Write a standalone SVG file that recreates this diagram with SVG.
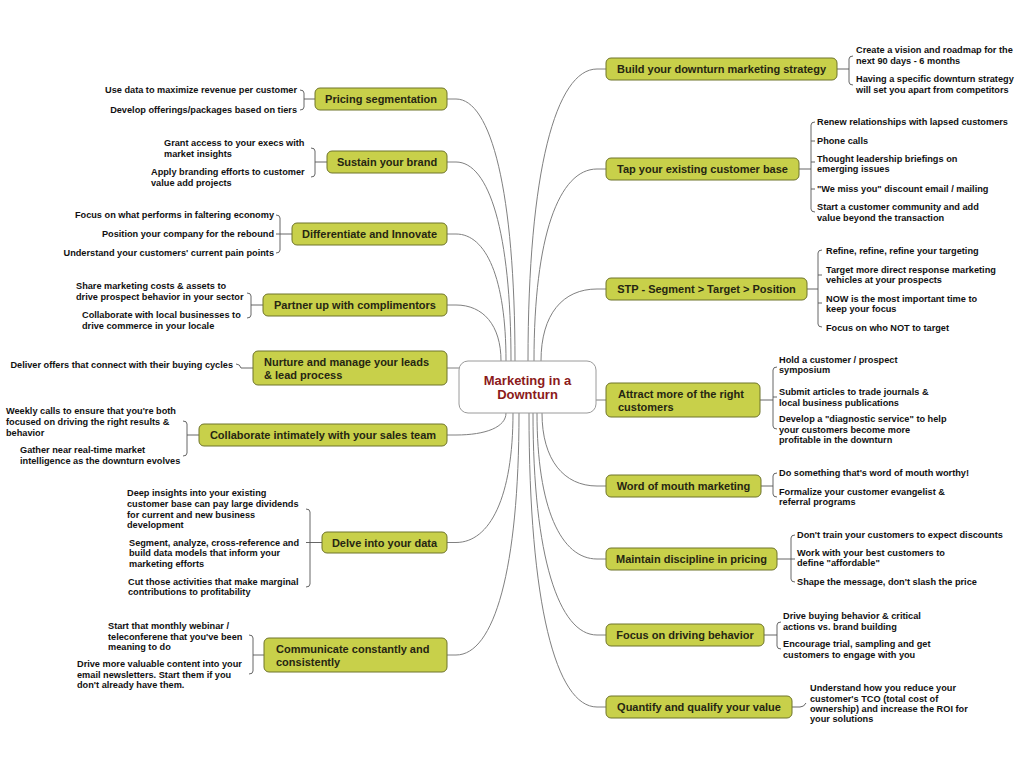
<svg xmlns="http://www.w3.org/2000/svg" width="1024" height="768" viewBox="0 0 1024 768">
<style>
.nr{fill:#c8d04a;stroke:#6f742a;stroke-width:1}
.cr{fill:#ffffff;stroke:#9a9a9a;stroke-width:1}
.nt{font-family:"Liberation Sans",Arial,sans-serif;font-weight:bold;font-size:11px;fill:#262612}
.ct{font-family:"Liberation Sans",Arial,sans-serif;font-weight:bold;font-size:13px;fill:#8b1a1a}
.lf{font-family:"Liberation Sans",Arial,sans-serif;font-weight:bold;font-size:9.2px;fill:#111}
.c{fill:none;stroke:#808080;stroke-width:1}
.b{fill:none;stroke:#555;stroke-width:0.9}
.m{text-anchor:middle}
.e{text-anchor:end}
</style>
<rect width="1024" height="768" fill="#ffffff"/>
<g id="connectors">
<path class="c" d="M447,99 L456,99 C491,99 515,191 515,361"/>
<path class="c" d="M447,162 L456,162 C489,162 511,232 511,361"/>
<path class="c" d="M447,234 L456,234 C486,234 506,278 506,361"/>
<path class="c" d="M447,305 L456,305 C483,305 501,325 501,361"/>
<path class="c" d="M447,368 L459,368"/>
<path class="c" d="M447,435 L456,435 C486,435 506,427 506,413"/>
<path class="c" d="M447,542.5 L456,542.5 C490,542.5 513,497 513,413"/>
<path class="c" d="M447,655 L456,655 C494,655 519,570 519,413"/>
<path class="c" d="M606,69 L597,69 C556,69 528,171 528,361"/>
<path class="c" d="M606,169 L597,169 C559,169 534,236 534,361"/>
<path class="c" d="M606,289 L597,289 C563,289 541,314 541,361"/>
<path class="c" d="M596,400 L606,400"/>
<path class="c" d="M606,486 L597,486 C564,486 542,460 542,413"/>
<path class="c" d="M606,559 L597,559 C561,559 537,508 537,413"/>
<path class="c" d="M606,635 L597,635 C559,635 533,557 533,413"/>
<path class="c" d="M606,707 L597,707 C556,707 529,604 529,413"/>
<!-- left brackets -->
<path class="b" d="M300,90 Q304,90 304,93 L304,107 Q304,110 300,110 M304,99 L315,99"/>
<path class="b" d="M311,148 Q315,148 315,151 L315,174 Q315,177 311,177 M315,162 L327,162"/>
<path class="b" d="M276,215 Q280,215 280,218 L280,250 Q280,253 276,253 M276,234 L292,234"/>
<path class="b" d="M247,293 Q251,293 251,296 L251,315 Q251,318 247,318 M251,305 L263,305"/>
<path class="b" d="M236,364 Q240,364 241,368 L253,368"/>
<path class="b" d="M183,421 Q187,421 187,424 L187,453 Q187,456 183,456 M187,435 L199,435"/>
<path class="b" d="M306,509 Q310,509 310,512 L310,584 Q310,587 306,587 M306,542.5 L322,542.5"/>
<path class="b" d="M249,635 Q253,635 253,638 L253,671 Q253,674 249,674 M253,655 L264,655"/>
<!-- right brackets -->
<path class="b" d="M853,56 Q849,56 849,59 L849,82 Q849,85 853,85 M837,69 L849,69"/>
<path class="b" d="M815,122 Q811,122 811,125 L811,209 Q811,212 815,212 M799,169 L811,169 M811,141 L815,141 M811,162 L815,162 M811,189 L815,189"/>
<path class="b" d="M822,250 Q818,250 818,253 L818,324 Q818,327 822,327 M807,289 L818,289 M818,275 L822,275 M818,303 L822,303"/>
<path class="b" d="M777,367 Q773,367 773,370 L773,426 Q773,429 777,429 M760,400 L773,400 M773,397 L777,397"/>
<path class="b" d="M777,473 Q773,473 773,476 L773,494 Q773,497 777,497 M761,486 L773,486"/>
<path class="b" d="M795,535 Q791,535 791,538 L791,579 Q791,582 795,582 M777,559 L795,559"/>
<path class="b" d="M781,622 Q777,622 777,625 L777,646 Q777,649 781,649 M764,635 L777,635"/>
<path class="b" d="M792,707 L800,707 Q804,707 806,703"/>
</g>
<g id="center">
<rect class="cr" x="459" y="361" width="137" height="52" rx="9"/>
<text class="ct m" x="527.5" y="385">Marketing in a</text>
<text class="ct m" x="527.5" y="399">Downturn</text>
</g>
<g id="n-pricing"><rect class="nr" x="315" y="88" width="132" height="22" rx="5"/><text class="nt m" x="381" y="103">Pricing segmentation</text></g>
<g id="n-sustain"><rect class="nr" x="327" y="151" width="120" height="22" rx="5"/><text class="nt m" x="387" y="166">Sustain your brand</text></g>
<g id="n-differentiate"><rect class="nr" x="292" y="223" width="155" height="22" rx="5"/><text class="nt m" x="369.5" y="238">Differentiate and Innovate</text></g>
<g id="n-partner"><rect class="nr" x="263" y="294" width="184" height="22" rx="5"/><text class="nt m" x="355" y="309">Partner up with complimentors</text></g>
<g id="n-nurture"><rect class="nr" x="253" y="351" width="194" height="34" rx="5"/><text class="nt" x="264" y="366">Nurture and manage your leads</text><text class="nt" x="264" y="379">&amp; lead process</text></g>
<g id="n-collaborate"><rect class="nr" x="199" y="424" width="248" height="22" rx="5"/><text class="nt m" x="323" y="439">Collaborate intimately with your sales team</text></g>
<g id="n-delve"><rect class="nr" x="322" y="532" width="125" height="21" rx="5"/><text class="nt m" x="384.5" y="546.5">Delve into your data</text></g>
<g id="n-communicate"><rect class="nr" x="264" y="638" width="183" height="34" rx="5"/><text class="nt" x="276" y="653">Communicate constantly and</text><text class="nt" x="276" y="666">consistently</text></g>
<g id="n-build"><rect class="nr" x="606" y="58" width="231" height="22" rx="5"/><text class="nt m" x="721.5" y="73">Build your downturn marketing strategy</text></g>
<g id="n-tap"><rect class="nr" x="606" y="158" width="193" height="22" rx="5"/><text class="nt m" x="702.5" y="173">Tap your existing customer base</text></g>
<g id="n-stp"><rect class="nr" x="606" y="278" width="201" height="22" rx="5"/><text class="nt m" x="706.5" y="293">STP - Segment &gt; Target &gt; Position</text></g>
<g id="n-attract"><rect class="nr" x="606" y="383" width="154" height="34" rx="5"/><text class="nt" x="618" y="398">Attract more of the right</text><text class="nt" x="618" y="411">customers</text></g>
<g id="n-word"><rect class="nr" x="606" y="475" width="155" height="22" rx="5"/><text class="nt m" x="683.5" y="490">Word of mouth marketing</text></g>
<g id="n-maintain"><rect class="nr" x="606" y="548" width="171" height="22" rx="5"/><text class="nt m" x="691.5" y="563">Maintain discipline in pricing</text></g>
<g id="n-focus"><rect class="nr" x="606" y="624" width="158" height="22" rx="5"/><text class="nt m" x="685" y="639">Focus on driving behavior</text></g>
<g id="n-quantify"><rect class="nr" x="606" y="696" width="186" height="22" rx="5"/><text class="nt m" x="699" y="711">Quantify and qualify your value</text></g>
<g id="leaves-pricing">
<text class="lf e" x="297" y="93">Use data to maximize revenue per customer</text>
<text class="lf e" x="297" y="113">Develop offerings/packages based on tiers</text>
</g>
<g id="leaves-sustain">
<text class="lf" x="164" y="146">Grant access to your execs with</text>
<text class="lf" x="164" y="157">market insights</text>
<text class="lf" x="151" y="175">Apply branding efforts to customer</text>
<text class="lf" x="151" y="186">value add projects</text>
</g>
<g id="leaves-differentiate">
<text class="lf e" x="274" y="218">Focus on what performs in faltering economy</text>
<text class="lf e" x="274" y="237">Position your company for the rebound</text>
<text class="lf e" x="274" y="256">Understand your customers' current pain points</text>
</g>
<g id="leaves-partner">
<text class="lf" x="76" y="289">Share marketing costs &amp; assets to</text>
<text class="lf" x="76" y="300">drive prospect behavior in your sector</text>
<text class="lf" x="82" y="318">Collaborate with local businesses to</text>
<text class="lf" x="82" y="329">drive commerce in your locale</text>
</g>
<g id="leaves-nurture">
<text class="lf e" x="233" y="368">Deliver offers that connect with their buying cycles</text>
</g>
<g id="leaves-collaborate">
<text class="lf" x="6" y="414">Weekly calls to ensure that you're both</text>
<text class="lf" x="6" y="425">focused on driving the right results &amp;</text>
<text class="lf" x="6" y="436">behavior</text>
<text class="lf" x="20" y="453">Gather near real-time market</text>
<text class="lf" x="20" y="464">intelligence as the downturn evolves</text>
</g>
<g id="leaves-delve">
<text class="lf" x="127" y="496">Deep insights into your existing</text>
<text class="lf" x="127" y="507">customer base can pay large dividends</text>
<text class="lf" x="127" y="517.5">for current and new business</text>
<text class="lf" x="127" y="528">development</text>
<text class="lf" x="129" y="545.5">Segment, analyze, cross-reference and</text>
<text class="lf" x="129" y="556">build data models that inform your</text>
<text class="lf" x="129" y="566.5">marketing efforts</text>
<text class="lf" x="128" y="584.5">Cut those activities that make marginal</text>
<text class="lf" x="128" y="595">contributions to profitability</text>
</g>
<g id="leaves-communicate">
<text class="lf" x="108" y="629">Start that monthly webinar /</text>
<text class="lf" x="108" y="639.5">teleconferene that you've been</text>
<text class="lf" x="108" y="650">meaning to do</text>
<text class="lf" x="77" y="667">Drive more valuable content into your</text>
<text class="lf" x="77" y="677.5">email newsletters. Start them if you</text>
<text class="lf" x="77" y="688">don't already have them.</text>
</g>
<g id="leaves-build">
<text class="lf" x="856" y="53">Create a vision and roadmap for the</text>
<text class="lf" x="856" y="63.5">next 90 days - 6 months</text>
<text class="lf" x="856" y="82">Having a specific downturn strategy</text>
<text class="lf" x="856" y="92.5">will set you apart from competitors</text>
</g>
<g id="leaves-tap">
<text class="lf" x="817" y="125">Renew relationships with lapsed customers</text>
<text class="lf" x="817" y="144">Phone calls</text>
<text class="lf" x="817" y="161.5">Thought leadership briefings on</text>
<text class="lf" x="817" y="172">emerging issues</text>
<text class="lf" x="817" y="191.5">"We miss you" discount email / mailing</text>
<text class="lf" x="817" y="210">Start a customer community and add</text>
<text class="lf" x="817" y="220.5">value beyond the transaction</text>
</g>
<g id="leaves-stp">
<text class="lf" x="826" y="253.5">Refine, refine, refine your targeting</text>
<text class="lf" x="826" y="272.5">Target more direct response marketing</text>
<text class="lf" x="826" y="283">vehicles at your prospects</text>
<text class="lf" x="826" y="301.5">NOW is the most important time to</text>
<text class="lf" x="826" y="312">keep your focus</text>
<text class="lf" x="826" y="330.5">Focus on who NOT to target</text>
</g>
<g id="leaves-attract">
<text class="lf" x="779" y="362.5">Hold a customer / prospect</text>
<text class="lf" x="779" y="373">symposium</text>
<text class="lf" x="779" y="395">Submit articles to trade journals &amp;</text>
<text class="lf" x="779" y="405.5">local business publications</text>
<text class="lf" x="779" y="422">Develop a "diagnostic service" to help</text>
<text class="lf" x="779" y="432.5">your customers become more</text>
<text class="lf" x="779" y="443">profitable in the downturn</text>
</g>
<g id="leaves-word">
<text class="lf" x="779" y="475.5">Do something that's word of mouth worthy!</text>
<text class="lf" x="779" y="494.5">Formalize your customer evangelist &amp;</text>
<text class="lf" x="779" y="505">referral programs</text>
</g>
<g id="leaves-maintain">
<text class="lf" x="797" y="537.5">Don't train your customers to expect discounts</text>
<text class="lf" x="797" y="555.5">Work with your best customers to</text>
<text class="lf" x="797" y="566">define "affordable"</text>
<text class="lf" x="797" y="584.5">Shape the message, don't slash the price</text>
</g>
<g id="leaves-focus">
<text class="lf" x="783" y="619">Drive buying behavior &amp; critical</text>
<text class="lf" x="783" y="630">actions vs. brand building</text>
<text class="lf" x="783" y="647">Encourage trial, sampling and get</text>
<text class="lf" x="783" y="658">customers to engage with you</text>
</g>
<g id="leaves-quantify">
<text class="lf" x="810" y="691">Understand how you reduce your</text>
<text class="lf" x="810" y="701.5">customer's TCO (total cost of</text>
<text class="lf" x="810" y="712">ownership) and increase the ROI for</text>
<text class="lf" x="810" y="722">your solutions</text>
</g>
</svg>
